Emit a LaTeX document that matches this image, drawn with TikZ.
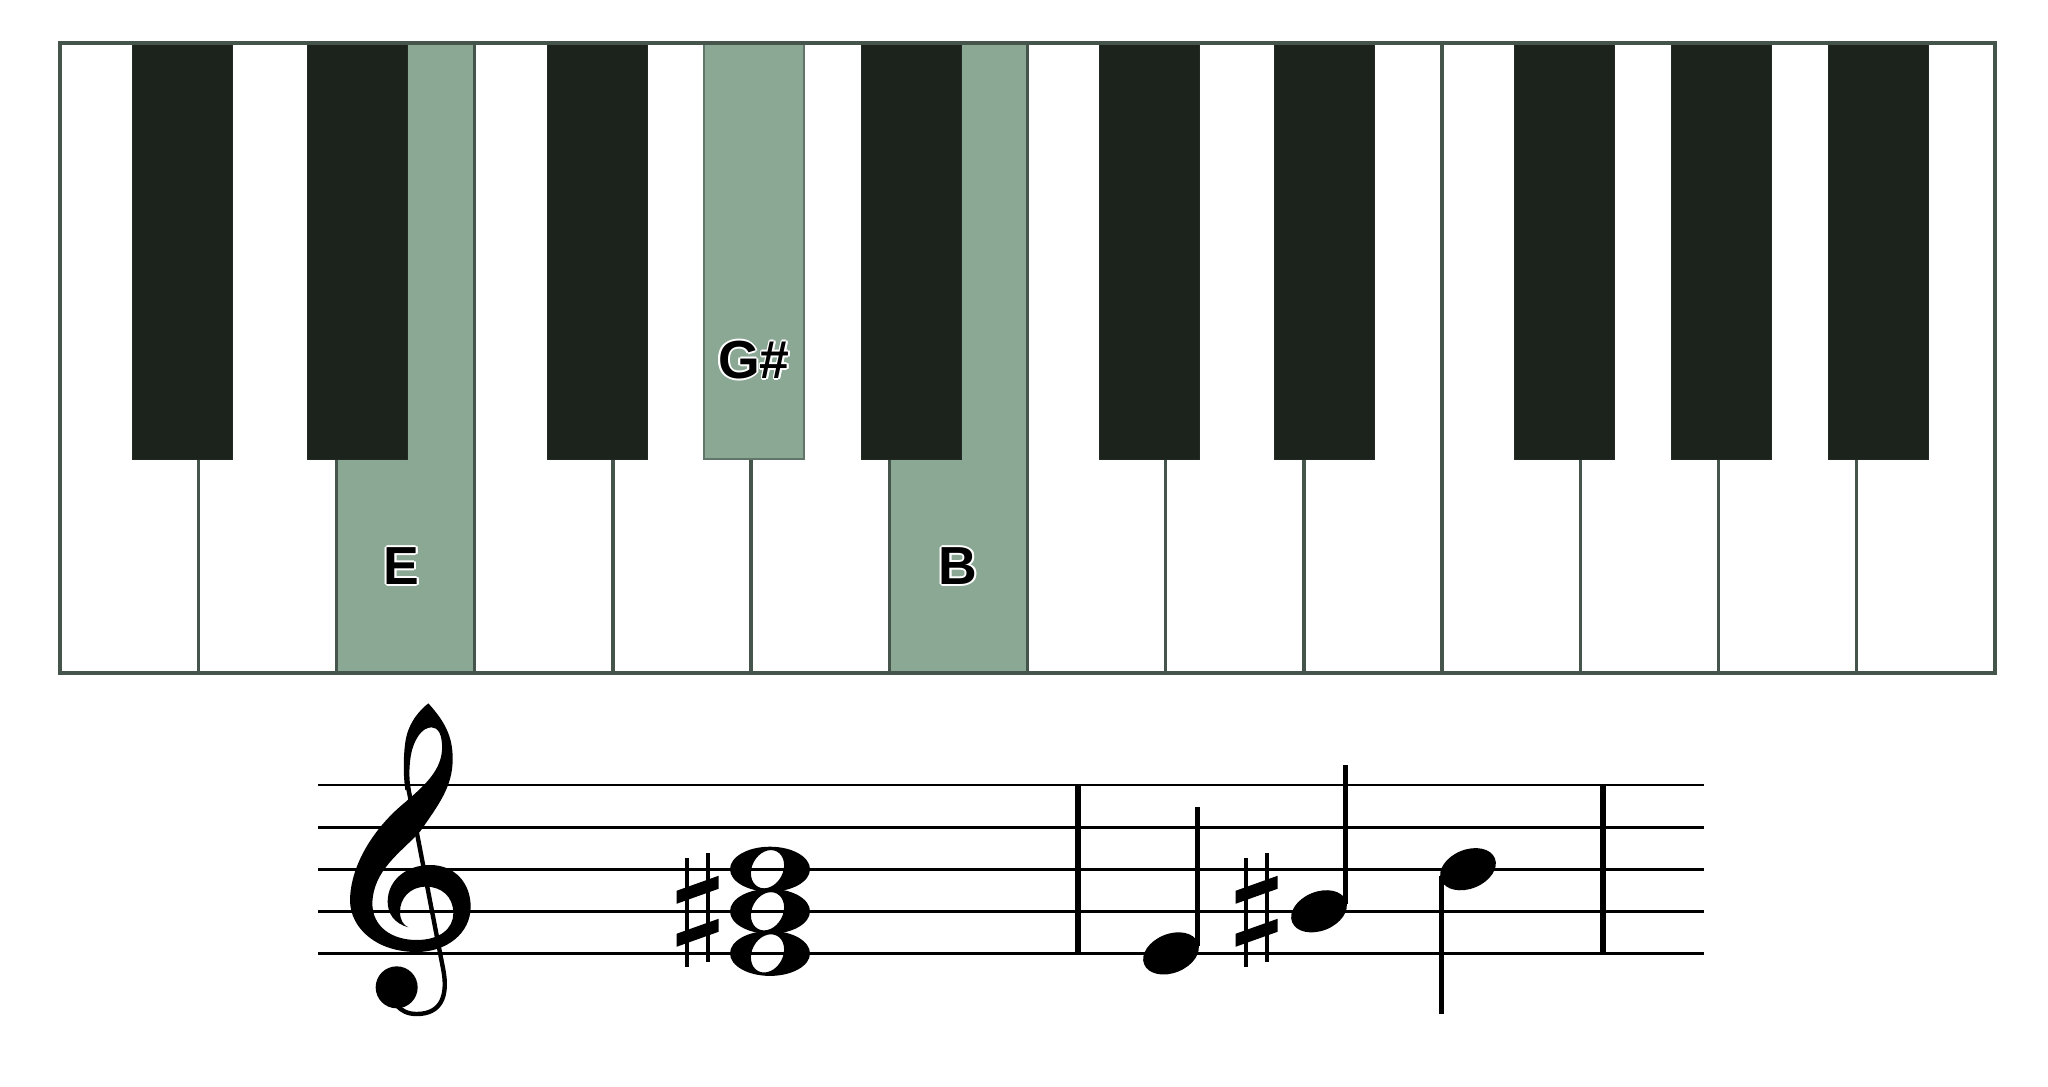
\documentclass[tikz,border=0pt]{standalone}
\usepackage{fontspec}
\newfontfamily\labfont{Liberation Sans}
\definecolor{keyhl}{HTML}{8AA893}
\definecolor{keyblk}{HTML}{1C231D}
\definecolor{keyline}{HTML}{46554C}
\newcommand\halocopy[3]{\rlap{\kern#1\raisebox{#2}{\textcolor{white}{#3}}}}
\newcommand\halotext[1]{%
  \halocopy{-1.1pt}{0pt}{#1}\halocopy{1.1pt}{0pt}{#1}%
  \halocopy{0pt}{1.1pt}{#1}\halocopy{0pt}{-1.1pt}{#1}%
  \halocopy{-0.8pt}{0.8pt}{#1}\halocopy{0.8pt}{0.8pt}{#1}%
  \halocopy{-0.8pt}{-0.8pt}{#1}\halocopy{0.8pt}{-0.8pt}{#1}%
  #1}
\newcommand\keylabel[1]{{\labfont\bfseries\fontsize{30.5}{34}\selectfont\halotext{#1}}}
\begin{document}
\begin{tikzpicture}[x=0.02cm,y=-0.02cm,
  sepline/.style={draw=keyline,line width=1.9pt},
  blackkey/.style={fill=keyblk,draw=keyblk!85!keyline,line width=0.5pt},
  hlkey/.style={fill=keyhl},
  frame/.style={draw=keyline,line width=2.5pt},
  staffline/.style={draw=black,line width=1.7pt},
  barline/.style={draw=black,line width=2.9pt},
  stemline/.style={draw=black,line width=2.4pt},
  sharpvert/.style={draw=black,line width=2pt},
  keylab/.style={inner sep=0pt,text=black}]
\useasboundingbox (0,0) rectangle (2048,1087);
\fill[white] (0,0) rectangle (2048,1087);

% ---------------- keyboard ----------------
\fill[hlkey] (336.43,43) rectangle (474.64,673); % E
\fill[hlkey] (889.29,43) rectangle (1027.5,673); % B
\foreach \i in {1,...,13}
  \draw[sepline] ({60+\i*138.214},43) -- ({60+\i*138.214},673);
\foreach \o in {0,967.5}
  \foreach \b in {72,247,487,644,801}
    \fill[blackkey] ({60+\o+\b},43) rectangle ++(100,416);
% G# highlighted
\fill[hlkey,draw=keyline!60!keyhl,line width=0.6pt] (704,43) rectangle (804,459);
\draw[frame] (60,43) rectangle (1995,673);

\node[keylab] (lblGs) at (754,360) {\keylabel{G\#}};
\node[keylab] (lblE) at (401.5,566) {\keylabel{E}};
\node[keylab] (lblB) at (958,566) {\keylabel{B}};

% ---------------- staff ----------------
\foreach \k in {0,...,4}
  \draw[staffline] (318,{785+42.1*\k}) -- (1704,{785+42.1*\k});
\draw[barline] (1078,784) -- (1078,954.4);
\draw[barline] (1603,784) -- (1603,954.4);

% treble clef
\begin{scope}[shift={(320,690)},scale=0.33333]
\fill[black] (265,712)
  .. controls (222,700) and (203,670) .. (203,635)
  .. controls (203,570) and (260,525) .. (330,525)
  .. controls (405,525) and (452,580) .. (452,650)
  .. controls (452,730) and (380,786) .. (290,786)
  .. controls (170,786) and (90,715) .. (90,630)
  .. controls (92,525) and (160,420) .. (240,350)
  .. controls (300,298) and (362,250) .. (366,180)
  .. controls (368,135) and (355,112) .. (335,112)
  .. controls (305,112) and (280,150) .. (272,200)
  .. controls (266,240) and (268,270) .. (272,300)
  -- (256,300)
  .. controls (250,260) and (249,200) .. (257,150)
  .. controls (267,95) and (300,60) .. (325,40)
  .. controls (375,95) and (398,140) .. (398,205)
  .. controls (399,290) and (355,345) .. (300,425)
  .. controls (240,490) and (160,540) .. (157,640)
  .. controls (157,710) and (215,750) .. (290,750)
  .. controls (360,750) and (400,715) .. (400,670)
  .. controls (400,620) and (365,590) .. (318,590)
  .. controls (270,590) and (240,625) .. (240,665)
  .. controls (240,690) and (250,705) .. (265,712) -- cycle;
\draw[line width=2.5pt] (264,290) -- (370,840)
  .. controls (385,920) and (362,972) .. (290,972)
  .. controls (262,972) and (245,962) .. (232,948);
\fill[black] (230,892) circle (63);
\end{scope}

% sharps
\foreach \cx/\cy in {697.5/911.3,1256.5/911.3}{
  \draw[sharpvert] (\cx-10.5,\cy-53) -- (\cx-10.5,\cy+56);
  \draw[sharpvert] (\cx+10.5,\cy-58) -- (\cx+10.5,\cy+51);
  \fill[black] (\cx-21,\cy-21.5+7.5-6.5) -- (\cx+21,\cy-21.5-7.5-6.5)
     -- (\cx+21,\cy-21.5-7.5+6.5) -- (\cx-21,\cy-21.5+7.5+6.5) -- cycle;
  \fill[black] (\cx-21,\cy+21.5+7.5-6.5) -- (\cx+21,\cy+21.5-7.5-6.5)
     -- (\cx+21,\cy+21.5-7.5+6.5) -- (\cx-21,\cy+21.5+7.5+6.5) -- cycle;
}

% whole-note chord
\foreach \ny in {869.2,911.3,953.4}{
  \fill[black,even odd rule] (770,\ny) ellipse [x radius=40, y radius=22.5]
    (767.5,\ny) ellipse [x radius=20, y radius=15.5, rotate=62];
}

% quarter notes
\foreach \nx/\ny in {1171/953.4,1319/911.3,1468/869.2}
  \fill[black] (\nx,\ny) ellipse [x radius=29, y radius=19.5, rotate=22];
\draw[stemline] (1197.5,946) -- (1197.5,807);
\draw[stemline] (1345.5,904) -- (1345.5,765);
\draw[stemline] (1441.5,876) -- (1441.5,1014);
\end{tikzpicture}
\end{document}
